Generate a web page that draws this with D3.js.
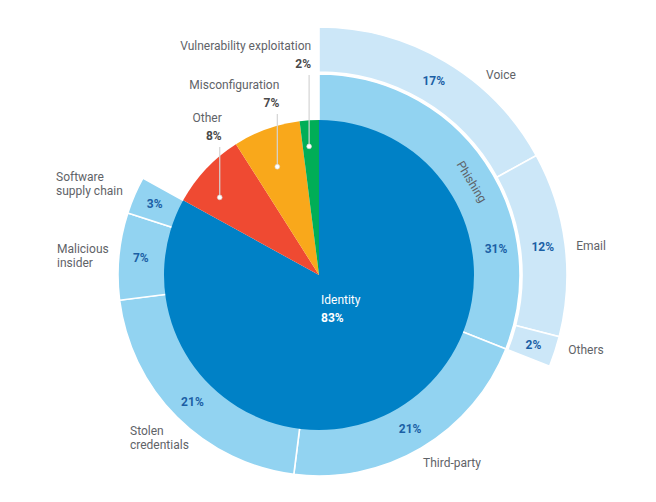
<!DOCTYPE html>
<html>
<head>
<meta charset="utf-8">
<script src="https://cdn.jsdelivr.net/npm/d3@7"></script>
<style>
  html, body { margin: 0; padding: 0; background: #fff; }
  svg text { font-family: Roboto, "Open Sans", sans-serif; }
</style>
</head>
<body>
<div id="chart"></div>
<script>
// inner pie: attack vectors (% of total)
const vectorNames = ["Identity", "Other", "Misconfiguration", "Vulnerability exploitation"];
const vectorValues = [83, 8, 7, 2];

// middle ring: breakdown of Identity
const identityNames = ["Phishing", "Third-party", "Stolen credentials", "Malicious insider", "Software supply chain"];
const identityValues = [31, 21, 21, 7, 3];

// outer ring: breakdown of Phishing
const phishingNames = ["Voice", "Email", "Others"];
const phishingValues = [17, 12, 2];

const total = 100;

const width = 656, height = 502;
const cx = 319, cy = 275;
const rPie = 155, r2in = 155, r2out = 201, r3in = 203, r3out = 248;

const colors = {
  identity: "#0081c6",
  ring2: "#92d3f1",
  ring3: "#cce7f8",
  pct: "#1b5fa5",
  text: "#5f6368"
};
const vectorColors = d3.scaleOrdinal()
  .domain(vectorNames)
  .range([colors.identity, "#ef4a32", "#f9a81b", "#00ae57"]);

const svg = d3.select("#chart")
  .append("svg")
  .attr("width", width)
  .attr("height", height);

const g = svg.append("g")
  .attr("transform", `translate(${cx},${cy})`);

const tau = Math.PI * 2;
const rad = a => a * Math.PI / 180;

function pieFor(values) {
  return d3.pie().sort(null).value(d => d)
    .startAngle(0)
    .endAngle(tau * d3.sum(values) / total)(values);
}

// outer ring (Phishing breakdown)
const arc3 = d3.arc().innerRadius(r3in).outerRadius(r3out);
const ring3 = pieFor(phishingValues);
g.append("g").selectAll("path")
  .data(ring3)
  .join("path")
  .attr("d", arc3)
  .attr("fill", colors.ring3)
  .attr("stroke", "#fff")
  .attr("stroke-width", 1.6);

// middle ring (Identity breakdown) - inner edge slides under the pie
const arc2 = d3.arc().innerRadius(r2in - 6).outerRadius(r2out);
const ring2 = pieFor(identityValues);
g.append("g").selectAll("path")
  .data(ring2)
  .join("path")
  .attr("d", arc2)
  .attr("fill", colors.ring2)
  .attr("stroke", "#fff")
  .attr("stroke-width", 1.6);

// inner pie
const arc1 = d3.arc().innerRadius(0).outerRadius(rPie);
const pie1 = pieFor(vectorValues);
g.append("g").selectAll("path")
  .data(pie1)
  .join("path")
  .attr("d", arc1)
  .attr("fill", (d, i) => vectorColors(vectorNames[i]));

// percentage labels in the rings
const mid2 = (r2in + r2out) / 2 + 1, mid3 = (r3in + r3out) / 2;
function polar(a, r) { return [r * Math.sin(a), -r * Math.cos(a)]; }

g.append("g").selectAll("text")
  .data(ring2)
  .join("text")
  .attr("transform", (d, i) => {
    // Phishing value is pushed down to leave room for the ring name
    const t = i === 0 ? 0.73 : 0.5;
    const p = polar(d.startAngle + t * (d.endAngle - d.startAngle), mid2);
    return `translate(${p[0]},${p[1]})`;
  })
  .attr("text-anchor", "middle")
  .attr("dy", "0.35em")
  .attr("fill", colors.pct)
  .attr("font-size", 12)
  .attr("font-weight", 700)
  .text(d => d.data + "%");

g.append("g").selectAll("text")
  .data(ring3)
  .join("text")
  .attr("transform", d => {
    const p = polar((d.startAngle + d.endAngle) / 2, mid3);
    return `translate(${p[0]},${p[1]})`;
  })
  .attr("text-anchor", "middle")
  .attr("dy", "0.35em")
  .attr("fill", colors.pct)
  .attr("font-size", 12)
  .attr("font-weight", 700)
  .text(d => d.data + "%");

// "Phishing" along the middle ring
{
  const d = ring2[0];
  const a = d.startAngle + 0.525 * (d.endAngle - d.startAngle);
  const p = polar(a, mid2);
  g.append("text")
    .attr("transform", `translate(${p[0]},${p[1]}) rotate(${a * 180 / Math.PI})`)
    .attr("text-anchor", "middle")
    .attr("dy", "0.35em")
    .attr("fill", colors.text)
    .attr("font-size", 12)
    .text(identityNames[0]);
}

// Identity label inside the pie
const idLabel = g.append("text")
  .attr("x", 2)
  .attr("fill", "#fff")
  .attr("font-size", 12);
idLabel.append("tspan").attr("x", 2).attr("y", 29).text(vectorNames[0]);
idLabel.append("tspan").attr("x", 2).attr("y", 47).attr("font-weight", 700).text(vectorValues[0] + "%");

// callouts for the small slices: position within slice, radius, label baseline
const callouts = {
  "Other": { t: 0.32, r: 126, y: -153 },
  "Misconfiguration": { t: 0.45, r: 116, y: -186 },
  "Vulnerability exploitation": { t: 0.39, r: 129, y: -225 }
};
pie1.forEach((d, i) => {
  const c = callouts[vectorNames[i]];
  if (!c) return;
  const a = d.startAngle + c.t * (d.endAngle - d.startAngle);
  const p = polar(a, c.r);
  g.append("line")
    .attr("x1", p[0]).attr("y1", p[1])
    .attr("x2", p[0]).attr("y2", c.y + 25)
    .attr("stroke", "#d4d4d4")
    .attr("stroke-width", 1.2);
  g.append("circle")
    .attr("cx", p[0]).attr("cy", p[1])
    .attr("r", 2.4)
    .attr("fill", "#fff")
    .attr("stroke", "#d4d4d4")
    .attr("stroke-width", 0.6);
  const t = g.append("text")
    .attr("text-anchor", "end")
    .attr("font-size", 12)
    .attr("fill", colors.text);
  t.append("tspan").attr("x", p[0] + 2).attr("y", c.y).text(vectorNames[i]);
  t.append("tspan").attr("x", p[0] + 2).attr("y", c.y + 18)
    .attr("font-weight", 700).attr("fill", "#4a4a4a")
    .text(vectorValues[i] + "%");
});

// names outside the rings (offsets from centre, text anchor)
const outerLabels = [
  { name: phishingNames[0], dx: 182, dy: -196, anchor: "middle" },
  { name: phishingNames[1], dx: 272, dy: -25, anchor: "middle" },
  { name: phishingNames[2], dx: 267, dy: 79, anchor: "middle" },
  { name: identityNames[1], dx: 133, dy: 192, anchor: "middle" },
  { name: identityNames[2], dx: -189, dy: 160, anchor: "start" },
  { name: identityNames[3], dx: -262, dy: -22, anchor: "start" },
  { name: identityNames[4], dx: -263, dy: -94, anchor: "start" }
];
const wrap = {
  "Stolen credentials": ["Stolen", "credentials"],
  "Malicious insider": ["Malicious", "insider"],
  "Software supply chain": ["Software", "supply chain"]
};
outerLabels.forEach(l => {
  const lines = wrap[l.name] || [l.name];
  const t = g.append("text")
    .attr("text-anchor", l.anchor)
    .attr("font-size", 12)
    .attr("fill", colors.text);
  lines.forEach((s, k) => {
    t.append("tspan")
      .attr("x", l.dx)
      .attr("y", l.dy + k * 14)
      .text(s);
  });
});
</script>
</body>
</html>
